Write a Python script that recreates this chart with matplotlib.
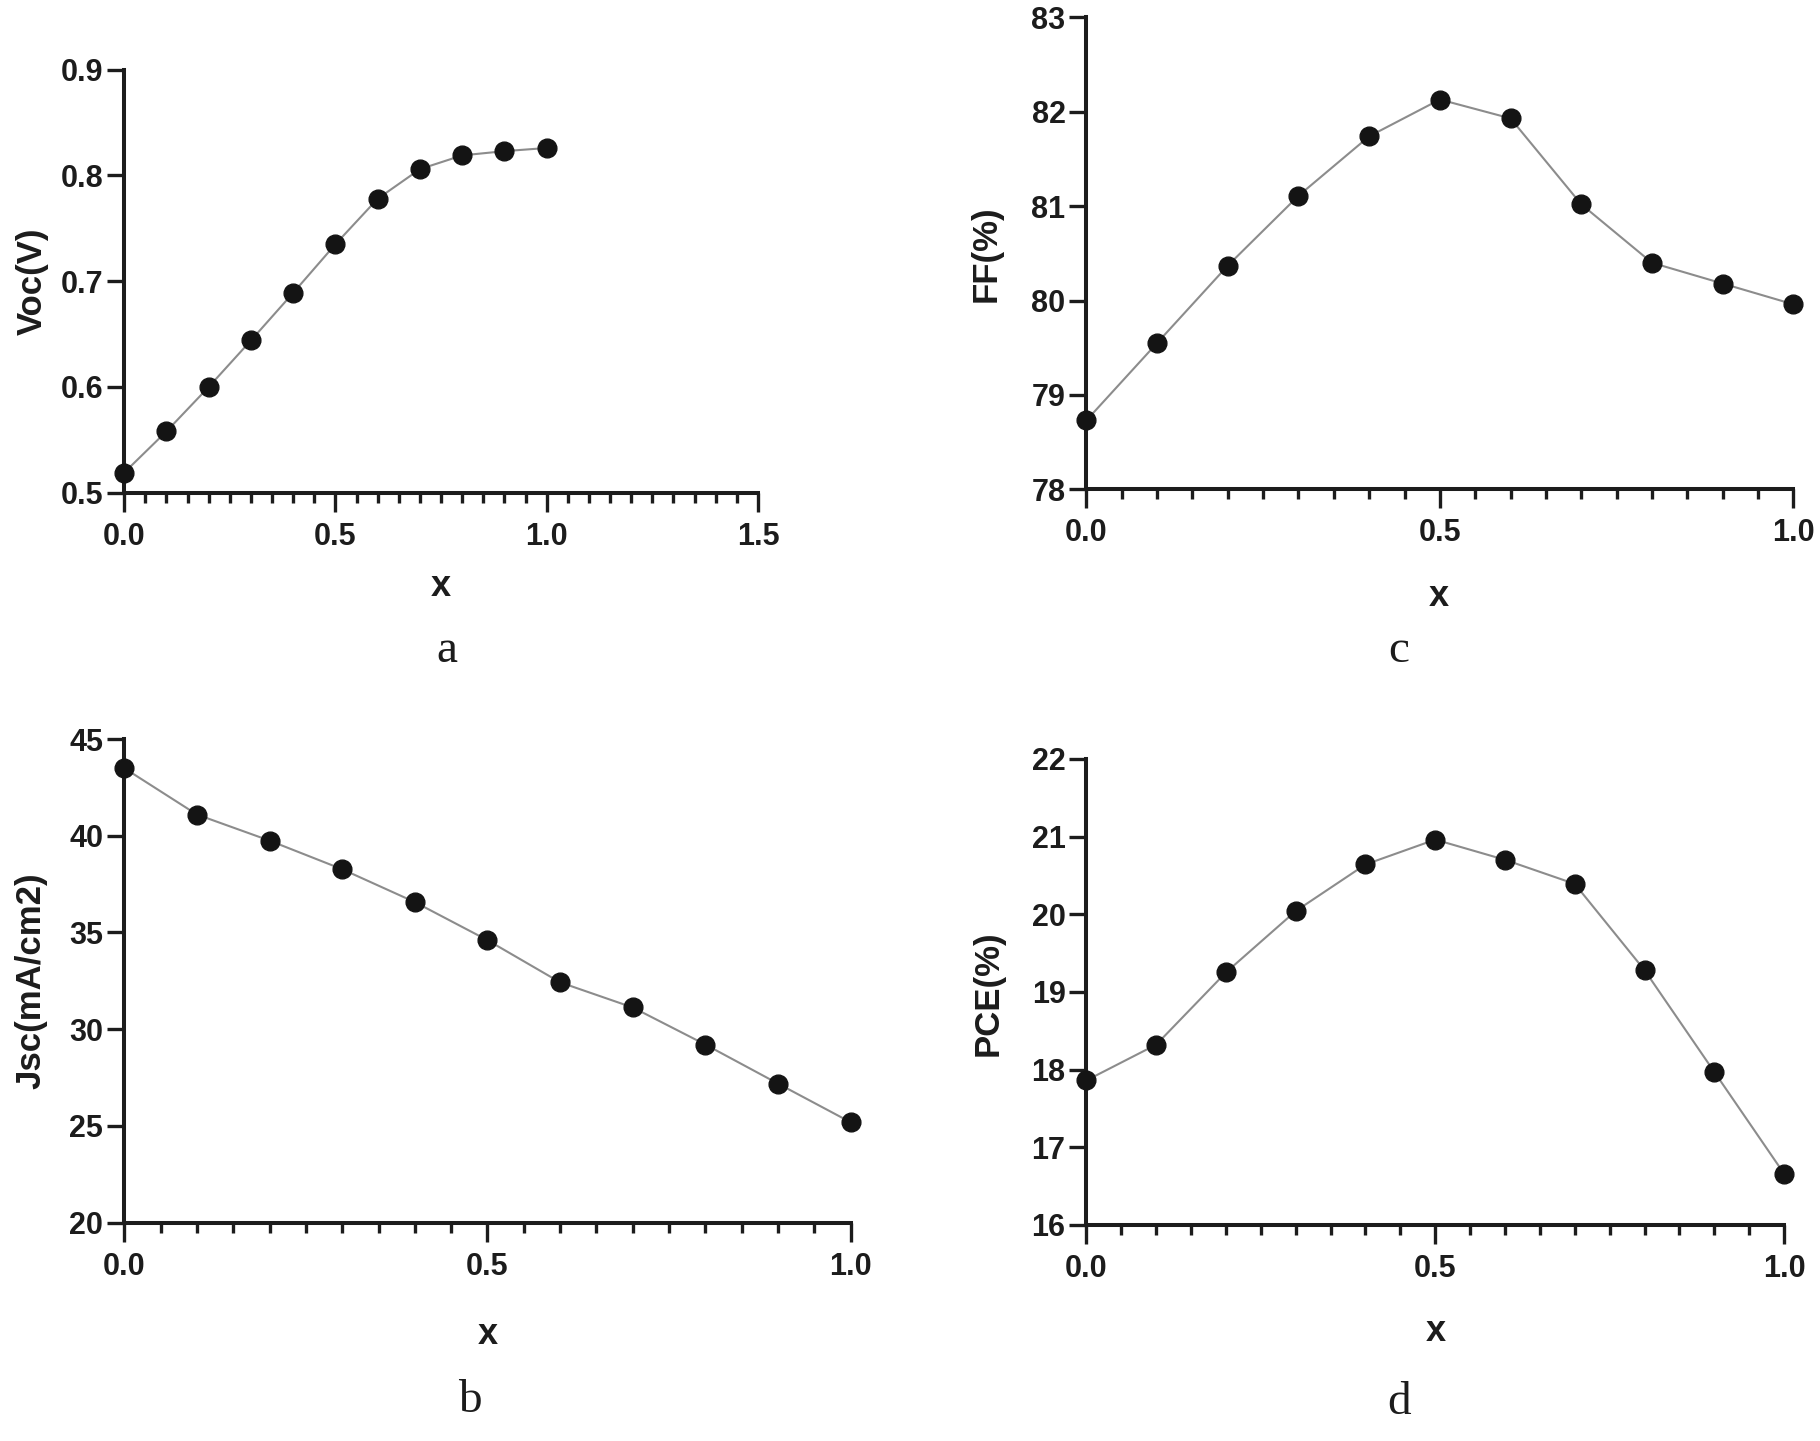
import matplotlib
matplotlib.use("Agg")
import matplotlib.pyplot as plt
import numpy as np

# ---- data ----
x_vals = [0.0, 0.1, 0.2, 0.3, 0.4, 0.5, 0.6, 0.7, 0.8, 0.9, 1.0]
voc = [0.519, 0.558, 0.600, 0.644, 0.689, 0.735, 0.778, 0.806, 0.819, 0.823, 0.826]
jsc = [43.5, 41.1, 39.75, 38.27, 36.57, 34.6, 32.42, 31.12, 29.2, 27.18, 25.18]
ff = [78.73, 79.55, 80.37, 81.11, 81.74, 82.13, 81.93, 81.02, 80.40, 80.18, 79.96]
pce = [17.86, 18.32, 19.25, 20.04, 20.64, 20.96, 20.70, 20.39, 19.28, 17.97, 16.66]

voc_ticks = [0.5, 0.6, 0.7, 0.8, 0.9]
voc_ticklabels = ["0.5", "0.6", "0.7", "0.8", "0.9"]
jsc_ticks = [20, 25, 30, 35, 40, 45]
ff_ticks = [78, 79, 80, 81, 82, 83]
pce_ticks = [16, 17, 18, 19, 20, 21, 22]

ylabels = ["Voc(V)", "Jsc(mA/cm2)", "FF(%)", "PCE(%)"]
panel_letters = ["a", "b", "c", "d"]

TICK_FONT = ["Liberation Sans", "DejaVu Sans"]
LABEL_FONT = ["Liberation Sans", "DejaVu Sans"]
SERIF = ["Liberation Serif", "DejaVu Serif"]
INK = "#1c1c1c"

fig = plt.figure(figsize=(18.2, 14.41), dpi=100)

W, H = 1568.0, 1240.0
def rect(l, r, t, b):
    return [l / W, 1 - b / H, (r - l) / W, (b - t) / H]

specs = [
    dict(r=rect(107, 653, 60, 424), y=voc, yt=voc_ticks, ytl=voc_ticklabels, xmax=1.5,
         xmaj=[0.0, 0.5, 1.0, 1.5], yl=(28, 242), xl=(380, 505), let=(385, 560)),
    dict(r=rect(107, 733, 636, 1052), y=jsc, yt=jsc_ticks, ytl=[str(v) for v in jsc_ticks], xmax=1.0,
         xmaj=[0.0, 0.5, 1.0], yl=(27, 844), xl=(420, 1148), let=(405, 1205)),
    dict(r=rect(936, 1545, 15, 421), y=ff, yt=ff_ticks, ytl=[str(v) for v in ff_ticks], xmax=1.0,
         xmaj=[0.0, 0.5, 1.0], yl=(850, 218), xl=(1240, 513), let=(1205, 560)),
    dict(r=rect(936, 1537, 653, 1054), y=pce, yt=pce_ticks, ytl=[str(v) for v in pce_ticks], xmax=1.0,
         xmaj=[0.0, 0.5, 1.0], yl=(851, 855), xl=(1237, 1146), let=(1205, 1207)),
]

for i, s in enumerate(specs):
    ax = fig.add_axes(s["r"])
    ax.plot(x_vals, s["y"], color="#8c8c8c", lw=1.5, zorder=2, clip_on=False)
    ax.plot(x_vals, s["y"], "o", color="#141414", ms=13.5, zorder=3, clip_on=False)
    ax.set_xlim(0, s["xmax"])
    ax.set_ylim(s["yt"][0], s["yt"][-1])
    for sp in ["top", "right"]:
        ax.spines[sp].set_visible(False)
    for sp in ["left", "bottom"]:
        ax.spines[sp].set_linewidth(2.9)
        ax.spines[sp].set_color(INK)
        ax.spines[sp].set_capstyle("projecting")
    ax.set_yticks(s["yt"])
    ax.set_yticklabels(s["ytl"])
    ax.set_xticks(s["xmaj"])
    ax.set_xticklabels([f"{v:.1f}" for v in s["xmaj"]])
    minors = [round(v, 2) for v in np.arange(0, s["xmax"] + 1e-9, 0.05)
              if abs(v * 2 - round(v * 2)) > 1e-6]
    ax.set_xticks(minors, minor=True)
    ax.tick_params(axis="y", which="major", direction="out", length=12, width=2.4,
                   color=INK, labelsize=22, pad=3)
    ax.tick_params(axis="x", which="major", direction="out", length=14, width=2.4,
                   color=INK, labelsize=22, pad=7)
    ax.tick_params(axis="x", which="minor", direction="out", length=7, width=2.4, color=INK)
    for lab in ax.get_xticklabels() + ax.get_yticklabels():
        lab.set_family(TICK_FONT)
        lab.set_fontweight("bold")
        lab.set_color(INK)

    fig.text(s["yl"][0] / W, 1 - s["yl"][1] / H, ylabels[i], rotation=90,
             ha="center", va="center", fontsize=25, fontweight="bold",
             family=LABEL_FONT, color=INK)
    fig.text(s["xl"][0] / W, 1 - s["xl"][1] / H, "x",
             ha="center", va="center", fontsize=26, fontweight="bold",
             family=LABEL_FONT, color=INK)
    fig.text(s["let"][0] / W, 1 - s["let"][1] / H, panel_letters[i],
             ha="center", va="center", fontsize=34, family=SERIF, color=INK)

fig.savefig("out.png", dpi=100, facecolor="white")
